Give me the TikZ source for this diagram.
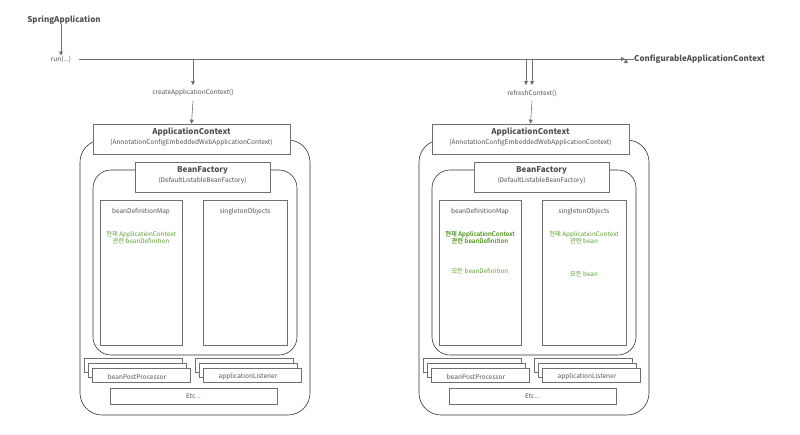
\documentclass[tikz,border=0pt]{standalone}
\usepackage{fontspec}
\setmainfont{Noto Sans CJK KR}
\usetikzlibrary{arrows.meta}
\definecolor{tx}{HTML}{505050}
\definecolor{ln}{HTML}{707070}
\definecolor{gr}{HTML}{5A9E2F}
\begin{document}
\begin{tikzpicture}[x=1pt,y=-1pt,
  every node/.style={text=tx,font=\fontsize{6.5}{7.5}\selectfont,inner sep=0pt},
  bx/.style={draw=ln,fill=white,line width=0.6pt},
  rr/.style={draw=black!80,line width=0.6pt,rounded corners=22pt},
  arr/.style={draw=ln,line width=0.6pt,-{Triangle[length=4pt,width=4pt]}},
  bold/.style={font=\fontsize{8}{9}\selectfont\bfseries},
  grn/.style={text=gr,align=center,font=\fontsize{6.3}{7}\selectfont}]
\useasboundingbox (0,0) rectangle (800,434);
\node[bold] (sa) at (64,20) {SpringApplication};
\node (run) at (61,59) {run(...)};
\node[bold,anchor=west] (cac) at (634,59) {ConfigurableApplicationContext};
\draw[arr] (sa.south -| run) -- (run.north);
\draw[arr] (run.east)++(8,0) coordinate (rs) -- (cac.west)++(-8,0) coordinate (re);
\draw[arr] (rs) -- (625,59);
\foreach \dx/\lab/\n in {0/createApplicationContext()/L,339/refreshContext()/R}{
 \begin{scope}[xshift=\dx]
  \coordinate (t\n) at (193,59);
  \node (m\n) at (193,93) {\lab};
  \draw[arr] (t\n) -- (193,85);
  \draw[rr] (80,140) rectangle (310,415);
  \node[bx,minimum width=197pt,minimum height=30pt] (ac\n) at (191.5,139) {};
  \node[bold] at (191.5,132) {ApplicationContext};
  \node at (191.5,143) {(AnnotationConfigEmbeddedWebApplicationContext)};
  \draw[arr] (193,101) -- (ac\n.north);
  \draw[rr,rounded corners=18pt] (93,170) rectangle (297,355);
  \node[bx,minimum width=135pt,minimum height=30pt] (bf\n) at (202.5,177) {};
  \node[font=\fontsize{8}{9}\selectfont\bfseries] at (202.5,170) {BeanFactory};
  \node at (202.5,181) {(DefaultListableBeanFactory)};
  \draw[draw=ln,line width=0.6pt] (100,200) rectangle (182,345);
  \draw[draw=ln,line width=0.6pt] (203,200) rectangle (287,345);
  \node at (141,212) {beanDefinitionMap};
  \node at (245,212) {singletonObjects};
  \node[grn] at (141,238) {현재 ApplicationContext\\관련 beanDefinition};
  \foreach \o in {0,4,8}{
    \draw[bx] (84+\o,358+\o/2*2.5) rectangle (182+\o,372+\o/2*2.5);
    \draw[bx] (195+\o,358+\o/2*2.5) rectangle (293+\o,372+\o/2*2.5);}
  \node at (137,377) {beanPostProcessor};
  \node at (248,377) {applicationListener};
  \draw[bx] (110,388) rectangle (277,404);
  \node at (193.5,396) {Etc...};
 \end{scope}}
\node[grn] at (180+300,238) {현재 ApplicationContext\\관련 beanDefinition};
\node[grn] at (480,271) {모든 beanDefinition};
\node[grn] at (584,238) {현재 ApplicationContext\\관련 bean};
\node[grn] at (584,274) {모든 bean};
\draw[arr] (526,59) -- (526,85);
\end{tikzpicture}
\end{document}
